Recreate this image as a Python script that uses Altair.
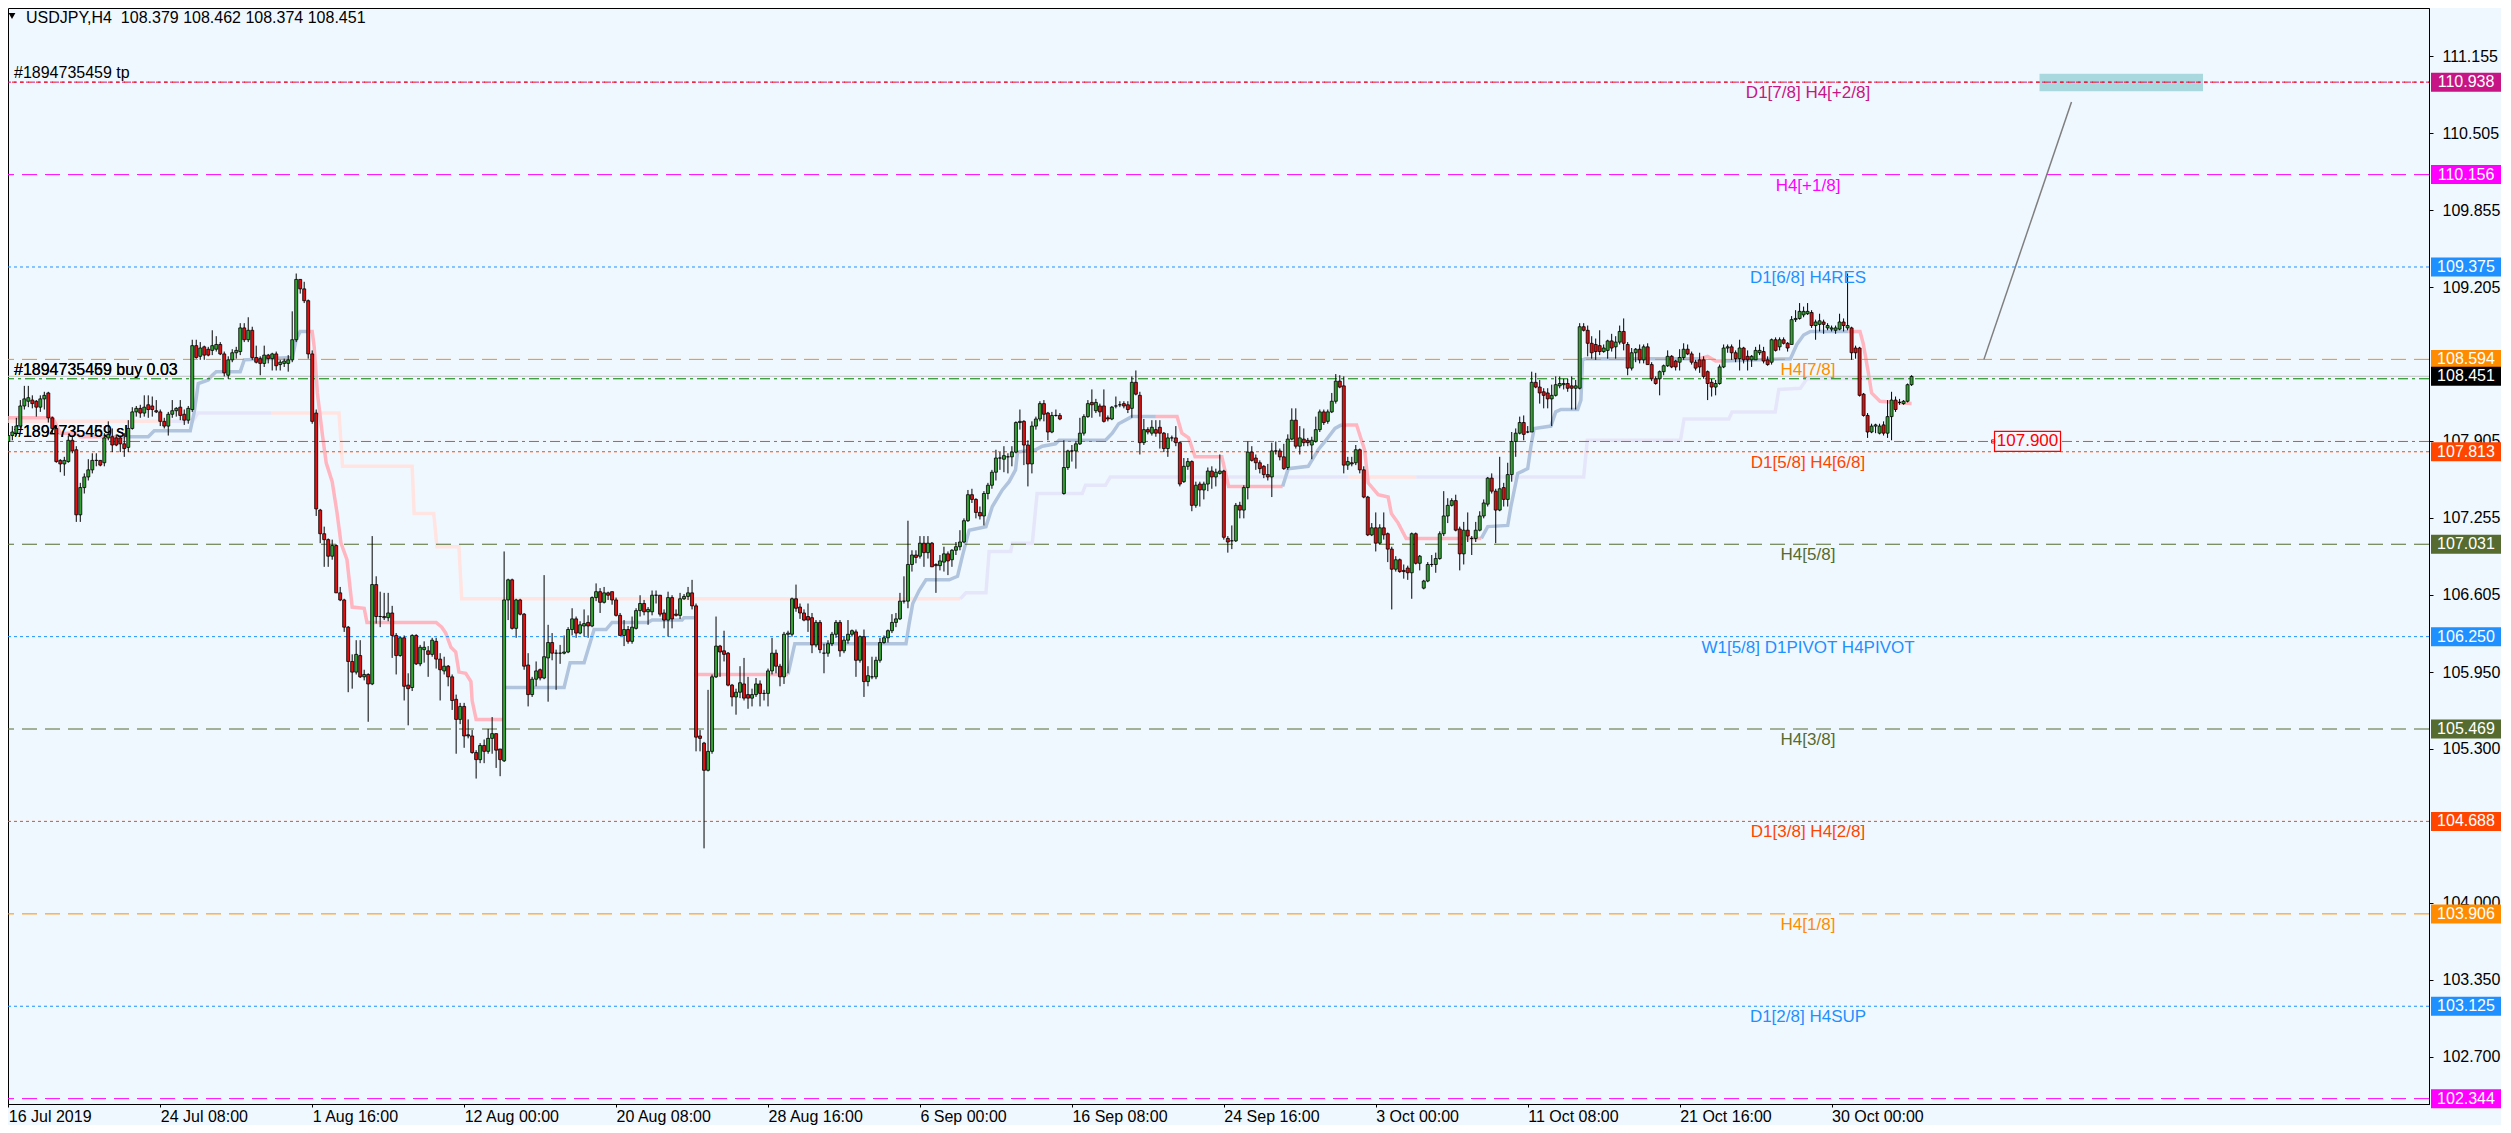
import altair as alt
import pandas as pd

# ---------------- candle data: USDJPY H4, one value per bar ----------------
OPEN = [
107.90,107.95,107.97,108.03,108.20,108.24,108.25,108.24,108.19,108.26,
108.31,108.10,108.01,107.74,107.71,107.73,107.91,107.83,107.28,107.51,
107.60,107.66,107.74,107.74,107.72,107.93,107.94,107.93,107.93,107.88,
107.85,108.01,108.15,108.18,108.14,108.21,108.20,108.16,108.15,108.07,
108.03,108.13,108.16,108.19,108.13,108.08,108.17,108.71,108.62,108.70,
108.68,108.67,108.68,108.72,108.64,108.46,108.59,108.65,108.66,108.86,
108.76,108.84,108.61,108.60,108.56,108.63,108.60,108.64,108.55,108.56,
108.56,108.59,108.76,109.27,109.19,109.09,108.64,108.14,107.32,107.12,
107.07,106.93,107.02,106.62,106.56,106.33,106.04,105.95,106.09,105.91,
105.93,105.85,106.69,106.42,106.42,106.41,106.45,106.26,106.09,106.24,
105.84,105.82,106.26,106.02,106.14,106.13,106.10,106.21,106.06,105.96,
106.00,105.91,105.72,105.55,105.66,105.42,105.41,105.27,105.21,105.33,
105.28,105.39,105.43,105.30,105.20,106.56,106.73,106.32,106.56,106.44,
106.01,105.76,105.89,105.97,105.90,106.07,106.20,106.11,106.11,106.11,
106.12,106.31,106.40,106.28,106.34,106.37,106.34,106.58,106.63,106.54,
106.62,106.63,106.56,106.43,106.26,106.31,106.21,106.32,106.47,106.53,
106.46,106.46,106.60,106.60,106.45,106.39,106.58,106.44,106.43,106.57,
106.59,106.62,106.51,105.41,105.35,105.12,105.28,105.91,106.17,106.13,
106.11,105.84,105.74,105.78,105.85,105.76,105.73,105.76,105.85,105.77,
105.77,105.96,106.11,106.00,105.91,106.27,106.27,106.57,106.50,106.45,
106.42,106.41,106.18,106.37,106.11,106.11,106.19,106.27,106.37,106.13,
106.22,106.27,106.29,106.05,106.25,105.87,105.91,105.91,106.05,106.20,
106.24,106.30,106.37,106.40,106.55,106.55,106.86,106.94,106.93,107.04,
106.96,107.04,106.86,106.85,106.88,106.95,106.90,106.98,107.01,107.05,
107.23,107.45,107.41,107.30,107.27,107.46,107.53,107.64,107.76,107.75,
107.77,107.77,107.81,108.06,108.07,107.87,107.71,108.03,108.09,108.22,
108.14,107.98,108.12,108.12,107.46,107.68,107.82,107.82,107.88,107.97,
108.11,108.23,108.16,108.20,108.20,108.10,108.09,108.20,108.21,108.22,
108.21,108.18,108.40,108.29,107.89,108.00,107.97,108.00,108.02,107.97,
107.84,107.93,107.93,107.89,107.56,107.69,107.73,107.36,107.54,107.49,
107.54,107.65,107.60,107.63,107.65,107.08,107.06,107.06,107.36,107.32,
107.51,107.81,107.76,107.72,107.69,107.62,107.60,107.82,107.82,107.77,
107.68,107.92,108.08,107.86,107.92,107.91,107.87,107.90,108.00,108.15,
108.07,108.15,108.24,108.41,108.37,107.70,107.72,107.72,107.83,107.66,
107.43,107.11,107.17,107.04,107.17,107.12,106.99,106.82,106.90,106.81,
106.83,106.79,107.12,106.87,106.66,106.72,106.86,106.86,106.91,107.12,
107.27,107.36,107.40,107.16,106.95,107.15,107.08,107.08,107.15,107.27,
107.37,107.59,107.48,107.32,107.51,107.41,107.62,107.90,107.97,108.06,
107.98,107.98,108.40,108.36,108.32,108.31,108.26,108.29,108.37,108.38,
108.39,108.37,108.35,108.35,108.87,108.84,108.73,108.72,108.71,108.66,
108.67,108.75,108.70,108.74,108.83,108.72,108.52,108.65,108.68,108.59,
108.70,108.55,108.43,108.43,108.49,108.54,108.62,108.58,108.57,108.61,
108.68,108.64,108.57,108.59,108.59,108.49,108.40,108.36,108.39,108.53,
108.69,108.70,108.65,108.60,108.69,108.62,108.59,108.59,108.65,108.66,
108.59,108.57,108.76,108.70,108.76,108.73,108.72,108.93,108.94,108.97,
108.98,108.99,108.88,108.89,108.91,108.86,108.85,108.84,108.85,108.91,
108.86,108.86,108.69,108.69,108.30,108.12,107.98,108.03,107.97,108.04,
107.97,108.11,108.25,108.23,108.22,108.24,108.38]
HIGH = [
107.98,108.03,108.10,108.25,108.37,108.37,108.29,108.25,108.29,108.32,
108.32,108.11,108.03,107.75,107.77,107.95,107.95,107.86,107.55,107.63,
107.75,107.80,107.80,107.74,107.97,108.07,108.01,107.96,107.95,107.97,
108.08,108.19,108.20,108.21,108.29,108.29,108.28,108.25,108.17,108.10,
108.15,108.25,108.19,108.25,108.17,108.20,108.76,108.76,108.74,108.71,
108.70,108.84,108.79,108.74,108.66,108.62,108.68,108.70,108.90,108.90,
108.95,108.87,108.71,108.62,108.71,108.64,108.65,108.66,108.59,108.60,
108.63,109.00,109.32,109.27,109.25,109.10,108.67,108.17,107.33,107.18,
107.08,107.07,107.03,106.67,106.57,106.34,106.10,106.22,106.22,105.97,
105.94,107.10,106.76,106.63,106.62,106.62,106.51,106.28,106.25,106.26,
105.94,106.27,106.27,106.18,106.21,106.17,106.24,106.24,106.11,106.08,
106.01,105.93,105.76,105.69,105.69,105.55,105.46,105.29,105.35,105.38,
105.47,105.57,105.43,105.30,106.97,106.74,106.74,106.57,106.57,106.45,
106.11,105.91,106.04,105.98,106.77,106.35,106.28,106.14,106.18,106.26,
106.33,106.49,106.42,106.38,106.48,106.43,106.59,106.70,106.66,106.67,
106.63,106.63,106.58,106.45,106.39,106.34,106.42,106.49,106.60,106.56,
106.50,106.64,106.64,106.60,106.48,106.63,106.60,106.48,106.62,106.61,
106.67,106.73,106.53,105.46,105.36,105.80,105.93,106.42,106.18,106.30,
106.12,105.85,105.81,106.00,106.07,105.91,105.81,105.90,105.88,105.80,
105.98,106.24,106.14,106.02,106.29,106.30,106.58,106.69,106.53,106.48,
106.53,106.45,106.39,106.39,106.19,106.22,106.29,106.39,106.39,106.25,
106.39,106.31,106.31,106.26,106.31,106.00,106.08,106.08,106.24,106.26,
106.31,106.44,106.45,106.62,106.76,107.23,106.98,106.98,107.10,107.10,
107.10,107.05,106.87,106.94,107.01,106.97,106.99,107.05,107.15,107.25,
107.49,107.50,107.42,107.35,107.48,107.55,107.66,107.83,107.81,107.86,
107.80,107.86,108.07,108.17,108.08,107.91,108.07,108.11,108.24,108.25,
108.15,108.15,108.17,108.14,107.91,107.83,107.87,107.90,108.10,108.13,
108.25,108.34,108.26,108.22,108.34,108.12,108.20,108.28,108.24,108.24,
108.24,108.45,108.50,108.32,108.09,108.02,108.08,108.08,108.08,107.98,
107.97,107.95,108.03,107.90,107.76,107.76,107.74,107.56,107.56,107.56,
107.68,107.69,107.67,107.79,107.66,107.10,107.19,107.38,107.39,107.53,
107.90,107.86,107.79,107.74,107.70,107.71,107.89,107.90,107.84,107.88,
107.96,108.18,108.18,108.03,108.01,107.93,107.94,108.11,108.17,108.17,
108.17,108.31,108.47,108.46,108.45,107.77,107.77,107.87,107.84,107.69,
107.44,107.21,107.30,107.20,107.30,107.13,107.01,106.93,106.91,106.86,
106.85,107.13,107.13,106.94,106.73,106.88,106.94,106.96,107.14,107.48,
107.42,107.42,107.45,107.18,107.22,107.30,107.10,107.22,107.31,107.41,
107.60,107.63,107.50,107.77,107.55,107.72,107.98,108.01,108.11,108.12,
108.03,108.49,108.48,108.42,108.35,108.35,108.38,108.45,108.45,108.43,
108.43,108.45,108.42,108.90,108.90,108.88,108.79,108.77,108.84,108.72,
108.76,108.81,108.79,108.88,108.94,108.74,108.69,108.69,108.72,108.72,
108.73,108.57,108.45,108.50,108.55,108.67,108.63,108.59,108.68,108.73,
108.72,108.66,108.59,108.65,108.62,108.50,108.43,108.42,108.55,108.72,
108.72,108.72,108.67,108.76,108.70,108.67,108.63,108.70,108.72,108.70,
108.62,108.77,108.78,108.78,108.78,108.74,108.96,109.01,109.07,109.04,
109.07,109.01,108.93,108.98,108.93,108.90,108.88,108.88,108.98,108.94,
109.32,108.87,108.71,108.70,108.31,108.14,108.05,108.05,108.05,108.07,
108.25,108.32,108.28,108.26,108.25,108.39,108.46]
LOW = [
107.83,107.91,107.95,108.01,108.17,108.19,108.18,108.11,108.15,108.17,
108.06,107.97,107.72,107.64,107.61,107.72,107.80,107.22,107.22,107.46,
107.57,107.63,107.69,107.69,107.69,107.91,107.81,107.86,107.81,107.77,
107.81,108.00,108.11,108.10,108.11,108.10,108.11,108.14,108.03,108.01,
107.95,108.10,108.11,108.08,108.04,108.05,108.15,108.60,108.59,108.59,
108.62,108.63,108.66,108.63,108.45,108.43,108.57,108.60,108.63,108.74,
108.74,108.59,108.56,108.46,108.53,108.56,108.50,108.50,108.50,108.53,
108.49,108.57,108.74,109.15,109.07,108.60,108.05,107.27,107.04,106.84,
106.84,106.90,106.62,106.55,106.29,105.78,105.81,105.93,105.90,105.88,
105.53,105.84,106.36,106.33,106.39,106.38,106.07,105.93,106.08,105.71,
105.50,105.79,106.01,106.00,106.03,105.91,106.08,105.98,105.71,105.93,
105.83,105.63,105.26,105.51,105.31,105.39,105.26,105.05,105.18,105.18,
105.26,105.26,105.14,105.07,105.19,106.39,106.31,106.24,106.43,105.97,
105.66,105.74,105.83,105.88,105.89,105.70,106.05,105.80,106.02,106.10,
106.11,106.26,106.24,106.27,106.25,106.24,106.33,106.55,106.45,106.53,
106.56,106.52,106.42,106.26,106.17,106.19,106.19,106.31,106.42,106.43,
106.35,106.43,106.53,106.42,106.32,106.25,106.32,106.42,106.40,106.56,
106.56,106.48,105.28,105.28,104.46,105.11,105.26,105.90,105.91,106.04,
105.83,105.66,105.59,105.73,105.71,105.64,105.66,105.74,105.66,105.71,
105.66,105.93,105.94,105.83,105.85,105.94,106.25,106.46,106.40,106.38,
106.29,106.11,106.16,106.11,105.94,106.08,106.17,106.24,106.08,106.11,
106.19,106.25,105.91,106.03,105.74,105.83,105.89,105.89,106.03,106.19,
106.20,106.28,106.33,106.39,106.53,106.49,106.80,106.87,106.91,106.84,
106.91,106.84,106.62,106.81,106.80,106.77,106.84,106.94,106.98,107.04,
107.22,107.38,107.25,107.24,107.19,107.41,107.50,107.57,107.66,107.64,
107.63,107.69,107.80,108.00,107.70,107.52,107.63,108.00,108.07,108.07,
107.91,107.97,108.11,108.08,107.45,107.66,107.73,107.67,107.87,107.95,
108.10,108.10,108.14,108.11,108.06,108.07,108.08,108.18,108.19,108.18,
108.14,108.10,108.29,107.79,107.87,107.96,107.95,107.94,107.84,107.81,
107.77,107.90,107.86,107.52,107.55,107.66,107.31,107.34,107.35,107.41,
107.48,107.50,107.52,107.62,107.07,106.96,106.99,107.05,107.25,107.25,
107.41,107.73,107.66,107.63,107.59,107.57,107.43,107.79,107.74,107.66,
107.66,107.91,107.84,107.79,107.86,107.86,107.75,107.89,107.98,108.04,
108.05,108.14,108.22,108.35,107.63,107.66,107.69,107.70,107.63,107.42,
107.10,107.10,106.97,107.03,107.07,106.88,106.48,106.80,106.79,106.74,
106.73,106.57,106.86,106.81,106.65,106.71,106.84,106.79,106.90,107.10,
107.21,107.35,107.14,106.81,106.86,107.05,106.94,107.05,107.14,107.25,
107.35,107.46,107.04,107.31,107.35,107.35,107.56,107.77,107.96,107.91,
107.97,107.98,108.35,108.22,108.18,108.18,108.03,108.28,108.35,108.34,
108.32,108.17,108.17,108.34,108.83,108.62,108.60,108.59,108.63,108.65,
108.60,108.66,108.60,108.72,108.67,108.46,108.50,108.57,108.56,108.56,
108.55,108.41,108.38,108.29,108.46,108.53,108.52,108.50,108.50,108.59,
108.63,108.55,108.50,108.48,108.43,108.25,108.28,108.29,108.38,108.52,
108.65,108.59,108.57,108.50,108.56,108.50,108.53,108.59,108.63,108.56,
108.54,108.55,108.66,108.67,108.72,108.66,108.72,108.91,108.93,108.95,
108.97,108.86,108.76,108.83,108.81,108.84,108.83,108.81,108.84,108.83,
108.84,108.59,108.60,108.28,108.11,107.93,107.97,107.97,107.96,107.95,
107.93,107.91,108.15,108.21,108.21,108.23,108.37]
CLOSE = [
107.95,107.98,108.03,108.20,108.26,108.27,108.22,108.19,108.26,108.29,
108.10,108.01,107.73,107.71,107.74,107.91,107.82,107.28,107.51,107.60,
107.66,107.74,107.74,107.70,107.93,107.96,107.87,107.87,107.88,107.84,
108.01,108.15,108.18,108.14,108.19,108.17,108.17,108.15,108.07,108.03,
108.13,108.16,108.18,108.12,108.08,108.18,108.71,108.61,108.69,108.63,
108.63,108.71,108.72,108.64,108.48,108.59,108.65,108.67,108.86,108.76,
108.84,108.61,108.57,108.56,108.63,108.60,108.64,108.54,108.57,108.58,
108.59,108.76,109.27,109.19,109.09,108.64,108.07,107.33,107.12,107.07,
106.93,107.02,106.62,106.56,106.33,106.04,105.95,106.10,105.91,105.93,
105.85,106.69,106.42,106.42,106.41,106.45,106.26,106.09,106.24,105.83,
105.81,106.26,106.02,106.16,106.16,106.10,106.22,106.06,105.97,106.00,
105.91,105.71,105.55,105.66,105.41,105.41,105.27,105.21,105.33,105.28,
105.39,105.43,105.29,105.21,106.56,106.73,106.32,106.56,106.44,106.00,
105.76,105.89,105.96,105.90,106.08,106.20,106.11,106.11,106.11,106.12,
106.31,106.40,106.28,106.35,106.36,106.34,106.58,106.63,106.54,106.62,
106.60,106.56,106.43,106.26,106.31,106.21,106.33,106.47,106.53,106.46,
106.48,106.60,106.60,106.44,106.39,106.58,106.40,106.43,106.57,106.59,
106.62,106.51,105.40,105.39,105.12,105.28,105.91,106.17,106.12,106.10,
105.84,105.74,105.78,105.86,105.73,105.73,105.76,105.85,105.77,105.77,
105.96,106.11,106.00,105.91,106.27,106.28,106.57,106.49,106.45,106.39,
106.39,106.18,106.37,106.14,106.11,106.19,106.27,106.37,106.13,106.22,
106.27,106.30,106.05,106.25,105.87,105.92,105.91,106.05,106.20,106.24,
106.30,106.37,106.40,106.55,106.55,106.86,106.94,106.92,107.04,106.96,
107.04,106.84,106.85,106.89,106.95,106.89,106.98,107.01,107.05,107.23,
107.45,107.41,107.30,107.27,107.46,107.53,107.64,107.76,107.76,107.78,
107.77,107.81,108.06,108.07,107.87,107.71,108.03,108.09,108.22,108.13,
107.98,108.12,108.12,108.09,107.68,107.82,107.82,107.88,107.97,108.11,
108.22,108.21,108.23,108.15,108.07,108.09,108.19,108.20,108.21,108.20,
108.17,108.40,108.30,107.89,108.00,107.98,108.02,107.97,107.97,107.84,
107.93,107.93,107.89,107.54,107.69,107.73,107.36,107.53,107.49,107.54,
107.65,107.60,107.64,107.65,107.09,107.05,107.06,107.36,107.32,107.51,
107.81,107.74,107.72,107.67,107.62,107.60,107.82,107.82,107.77,107.67,
107.92,108.08,107.86,107.93,107.89,107.89,107.91,108.00,108.15,108.06,
108.15,108.24,108.41,108.36,107.70,107.73,107.71,107.83,107.66,107.43,
107.11,107.17,107.04,107.17,107.11,106.99,106.82,106.90,106.80,106.80,
106.79,107.12,106.87,106.93,106.72,106.86,106.86,106.91,107.12,107.27,
107.36,107.40,107.15,106.95,107.15,107.10,107.08,107.15,107.27,107.38,
107.59,107.48,107.32,107.50,107.41,107.62,107.90,107.97,108.06,107.96,
107.98,108.40,108.36,108.31,108.29,108.26,108.29,108.38,108.39,108.39,
108.35,108.35,108.37,108.87,108.84,108.73,108.65,108.66,108.66,108.69,
108.75,108.69,108.74,108.83,108.73,108.52,108.65,108.68,108.59,108.70,
108.55,108.43,108.39,108.49,108.54,108.62,108.53,108.53,108.61,108.68,
108.64,108.57,108.52,108.53,108.45,108.39,108.36,108.39,108.53,108.69,
108.70,108.65,108.60,108.69,108.59,108.59,108.62,108.67,108.67,108.58,
108.55,108.76,108.67,108.76,108.73,108.69,108.93,108.94,109.00,109.00,
109.00,108.88,108.91,108.92,108.89,108.88,108.86,108.86,108.91,108.88,
108.88,108.65,108.65,108.29,108.12,107.98,108.03,108.04,108.03,107.97,
108.11,108.25,108.17,108.23,108.24,108.38,108.45]

# ---------------- axis labels ----------------
DATE_TICKS = [0, 38, 76, 114, 152, 190, 228, 266, 304, 342, 380, 418, 456]
DATE_LABELS = ["16 Jul 2019", "24 Jul 08:00", "1 Aug 16:00", "12 Aug 00:00",
               "20 Aug 08:00", "28 Aug 16:00", "6 Sep 00:00", "16 Sep 08:00",
               "24 Sep 16:00", "3 Oct 00:00", "11 Oct 08:00", "21 Oct 16:00",
               "30 Oct 00:00"]
PRICE_TICKS = [111.155, 110.505, 109.855, 109.205, 107.905, 107.255, 106.605,
               105.950, 105.300, 104.000, 103.350, 102.700]

# ---------------- Murrey-style levels ----------------
LEVEL_PRICES = [110.938, 110.156, 109.375, 108.594, 107.813, 107.031, 106.250,
                105.469, 104.688, 103.906, 103.125, 102.344]
LEVEL_NAMES = ["D1[7/8] H4[+2/8]", "H4[+1/8]", "D1[6/8] H4RES", "H4[7/8]",
               "D1[5/8] H4[6/8]", "H4[5/8]", "W1[5/8] D1PIVOT H4PIVOT", "H4[3/8]",
               "D1[3/8] H4[2/8]", "H4[1/8]", "D1[2/8] H4SUP", ""]
LEVEL_COLORS = ["#C71585", "#FF00FF", "#1E90FF", "#FF8C00", "#FF4500", "#556B2F",
                "#1E90FF", "#556B2F", "#FF4500", "#FF8C00", "#1E90FF", "#FF00FF"]
LEVEL_STYLES = ["dot", "dash", "dot", "dash", "dot", "dash", "dot", "dash", "dot",
                "dash", "dot", "dash"]

BID = 108.451
ORDER_OPEN = 108.43
ORDER_SL = 107.90
ORDER_TP = 110.938

# ---------------- trailing indicator lines (bar, price) ----------------
MAIN_SEGS = [
    ("pink", [(0, 108.10), (11, 108.10), (12, 108.04), (13, 107.97), (17, 107.97), (18, 107.94), (30, 107.94)]),
    ("blue", [(30, 107.94), (35, 107.94), (36.5, 107.99), (45.5, 107.99), (46.5, 108.15), (47.5, 108.39), (50, 108.42),
              (51, 108.46), (52, 108.49), (58, 108.49), (59, 108.59), (71, 108.61), (72, 108.76), (73, 108.83), (75, 108.83)]),
    ("pink", [(75, 108.83), (76, 108.83), (76.5, 108.70), (77.3, 108.31), (78.5, 107.97), (79.5, 107.72), (81, 107.56),
              (82.2, 107.30), (83.2, 107.04), (84.7, 106.90), (86, 106.50), (89, 106.49), (89.7, 106.37), (107, 106.37),
              (108.4, 106.33), (109.4, 106.28), (110.7, 106.16), (111.9, 106.12), (112.7, 105.95), (114.4, 105.94),
              (115.7, 105.87), (116, 105.71), (117, 105.55), (124, 105.55)]),
    ("blue", [(124, 105.82), (139, 105.82), (140.5, 106.03), (144, 106.03), (146.5, 106.31), (149.5, 106.31), (151, 106.37),
              (160, 106.37), (161, 106.39), (168.5, 106.39), (169, 106.41), (171.5, 106.41)]),
    ("pink", [(171.5, 105.93), (195, 105.93)]),
    ("blue", [(195, 105.93), (196.7, 106.19), (224.5, 106.19), (225.3, 106.36), (226.2, 106.53), (227.8, 106.64),
              (229.5, 106.73), (235.3, 106.73), (237.4, 106.76), (238.6, 106.93), (240.3, 107.15), (244.5, 107.18),
              (246.1, 107.35), (248.6, 107.49), (250.3, 107.56), (251.9, 107.66), (252.4, 107.81), (256.9, 107.83),
              (258.6, 107.86), (261.9, 107.88), (262.8, 107.91), (274.4, 107.91), (276.1, 107.97), (277.7, 108.05),
              (281, 108.11), (287, 108.11)]),
    ("pink", [(287, 108.11), (292.3, 108.11), (293.5, 107.97), (295.2, 107.93), (296.8, 107.77), (303.5, 107.77),
              (305.2, 107.52), (318.7, 107.52)]),
    ("blue", [(318.7, 107.52), (320.1, 107.67), (325.1, 107.69), (327.6, 107.83), (329.3, 107.90), (331.8, 108.01),
              (333.4, 108.04)]),
    ("pink", [(333.4, 108.04), (337.2, 108.04), (339.2, 107.83), (340.1, 107.55), (342.6, 107.45), (345.1, 107.43),
              (345.9, 107.29), (347.6, 107.21), (349.6, 107.08), (368.4, 107.08)]),
    ("blue", [(368.4, 107.08), (370, 107.18), (375, 107.19), (375.8, 107.35), (377.5, 107.63), (380, 107.67),
              (380.8, 107.86), (381.6, 108.01), (385.8, 108.03), (387, 108.15), (388.3, 108.17), (392.5, 108.17),
              (393.3, 108.25), (393.7, 108.59), (394.5, 108.60), (423, 108.60)]),
    ("pink", [(423, 108.60), (425, 108.62), (427, 108.58), (429, 108.58)]),
    ("blue", [(429, 108.58), (445.7, 108.60), (447.3, 108.72), (449, 108.80), (450.7, 108.83), (460.2, 108.83)]),
    ("pink", [(460.2, 108.83), (463.1, 108.83), (463.9, 108.73), (465.2, 108.48), (466, 108.31), (468.1, 108.24),
              (476, 108.22)]),
]
FAINT_SEGS = [
    ("rose", [(0, 108.07), (40.8, 108.07)]),
    ("lav", [(40.8, 108.07), (46.1, 108.07), (47.4, 108.14), (65.7, 108.14)]),
    ("rose", [(65.7, 108.14), (82.7, 108.14), (83.6, 107.69), (101, 107.69), (101.5, 107.29), (106.4, 107.29),
              (107.2, 107.01), (112.7, 107.01), (113.4, 106.57), (238.1, 106.57)]),
    ("lav", [(238.1, 106.57), (239.5, 106.62), (244.5, 106.62), (245.3, 106.97), (250.7, 106.97), (251.1, 107.04),
             (256.1, 107.04), (257.3, 107.46), (268.6, 107.46), (269.4, 107.53), (274.4, 107.53), (275.6, 107.60),
             (335.2, 107.60)]),
    ("rose", [(335.2, 107.60), (352.1, 107.60)]),
    ("lav", [(352.1, 107.60), (394, 107.60), (394.9, 107.91), (418.2, 107.91), (419.1, 108.09), (430.3, 108.09),
             (431.1, 108.15), (441.9, 108.15), (442.8, 108.34), (448.2, 108.35), (449.8, 108.43), (475, 108.43)]),
]
SEG_COLORS = {"pink": "#FFB6C1", "blue": "#B0C4DE", "rose": "#FFE4E1", "lav": "#E6E6FA"}

TREND_X = [494.1, 516.0]
TREND_P = [108.594, 110.77]
RECT_X = [508.0, 548.9]
RECT_P = [111.009, 110.86]
SL_LABEL_X = 505.0
SL_MARK_X = 496.4

# ---------------- build tables ----------------
FONT = "Liberation Sans"
BULL = "#32A032"
BEAR = "#DD1111"
XS = alt.Scale(domain=[1.1706, 604.16], nice=False, zero=False)
YS = alt.Scale(domain=[102.2986, 111.5647], nice=False, zero=False)

bars = pd.DataFrame({"i": list(range(len(CLOSE))), "o": OPEN, "h": HIGH, "l": LOW, "c": CLOSE})
bars["top"] = bars[["h", "o", "c"]].max(axis=1)
bars["bot"] = bars[["l", "o", "c"]].min(axis=1)
bars["dir"] = ["up" if c >= o else "down" for o, c in zip(OPEN, CLOSE)]

label_expr = "[" + ",".join("'" + s + "'" for s in DATE_LABELS) + "][round(datum.value / 38)]"
X_AXIS = alt.Axis(values=DATE_TICKS, labelExpr=label_expr, labelAlign="left", labelBaseline="top",
                  labelPadding=1, tickSize=3, tickColor="black", domainColor="black", labelColor="black",
                  labelFont=FONT, labelFontSize=16, grid=False, title=None, labelOverlap=False,
                  labelFlush=False, labelBound=False)
Y_AXIS = alt.Axis(orient="right", values=PRICE_TICKS, format=".3f", tickSize=4, labelPadding=9,
                  tickColor="black", domainColor="black", labelColor="black", labelFont=FONT,
                  labelFontSize=16, grid=False, title=None, labelOverlap=False, labelBaseline="middle")


def seg_table(segs):
    rows = []
    for s, (kind, pts) in enumerate(segs):
        for k, (x, p) in enumerate(pts):
            rows.append({"x": x, "p": p, "seg": s, "k": k, "col": SEG_COLORS[kind]})
    return pd.DataFrame(rows)


def xq(field):
    return alt.X(field, type="quantitative", scale=XS, axis=X_AXIS)


def yq(field):
    return alt.Y(field, type="quantitative", scale=YS, axis=Y_AXIS)


layers = []

# rectangle (tp zone)
rect_df = pd.DataFrame({"x1": [RECT_X[0]], "x2": [RECT_X[1]], "p1": [RECT_P[0]], "p2": [RECT_P[1]]})
layers.append(alt.Chart(rect_df).mark_rect(color="#A9D9DE").encode(
    x=xq("x1"), x2="x2", y=yq("p1"), y2="p2"))

# indicator lines
layers.append(alt.Chart(seg_table(FAINT_SEGS)).mark_line(strokeWidth=3.5).encode(
    x=xq("x"), y=yq("p"), detail="seg:N", order="k:Q", color=alt.Color("col:N", scale=None)))
layers.append(alt.Chart(seg_table(MAIN_SEGS)).mark_line(strokeWidth=3.5).encode(
    x=xq("x"), y=yq("p"), detail="seg:N", order="k:Q", color=alt.Color("col:N", scale=None)))

# level lines
for p, c, st in zip(LEVEL_PRICES, LEVEL_COLORS, LEVEL_STYLES):
    dash = [3, 3] if st == "dot" else [15, 8]
    layers.append(alt.Chart(pd.DataFrame({"p": [p]})).mark_rule(color=c, strokeWidth=1, strokeDash=dash)
                  .encode(y=yq("p")))
# tp line (red over the violet level)
layers.append(alt.Chart(pd.DataFrame({"p": [ORDER_TP]})).mark_rule(
    color="#FF0000", strokeWidth=1, strokeDash=[4, 4], strokeDashOffset=3).encode(y=yq("p")))
# sl and open-price lines, bid line
layers.append(alt.Chart(pd.DataFrame({"p": [ORDER_SL]})).mark_rule(
    color="#FF4500", strokeWidth=1, strokeDash=[10, 4, 3, 4]).encode(y=yq("p")))
layers.append(alt.Chart(pd.DataFrame({"p": [BID]})).mark_rule(color="#C0C0C0", strokeWidth=1).encode(y=yq("p")))
layers.append(alt.Chart(pd.DataFrame({"p": [ORDER_OPEN]})).mark_rule(
    color="#008000", strokeWidth=1, strokeDash=[10, 4, 3, 4]).encode(y=yq("p")))

# order texts
order_df = pd.DataFrame({
    "p": [ORDER_TP, ORDER_OPEN, ORDER_OPEN, ORDER_SL, ORDER_SL],
    "t": ["#1894735459 tp", "#1894735459 buy 0.03", "#1894735469 buy 0.03", "#1894735469 sl", "#1894735459 sl"],
})
layers.append(alt.Chart(order_df).mark_text(align="left", baseline="middle", dy=-9, font=FONT, fontSize=16,
                                            color="black").encode(x=alt.value(6), y=yq("p"), text="t:N"))

# trend line
trend_df = pd.DataFrame({"x": TREND_X, "p": TREND_P})
layers.append(alt.Chart(trend_df).mark_line(color="#7F7F7F", strokeWidth=1.5).encode(x=xq("x"), y=yq("p")))

# candles
layers.append(alt.Chart(bars).mark_rule(color="black", strokeWidth=1).encode(
    x=xq("i"), y=yq("bot"), y2="top:Q"))
layers.append(alt.Chart(bars).mark_bar(size=3, stroke="black", strokeWidth=0.8).encode(
    x=xq("i"), y=yq("o"), y2="c:Q",
    color=alt.Color("dir:N", scale=alt.Scale(domain=["up", "down"], range=[BULL, BEAR]), legend=None)))

# level labels
lvl_df = pd.DataFrame({"p": LEVEL_PRICES, "t": LEVEL_NAMES, "col": LEVEL_COLORS})
lvl_df = lvl_df[lvl_df["t"] != ""]
layers.append(alt.Chart(lvl_df).mark_text(align="center", baseline="middle", dy=11, font=FONT, fontSize=17)
              .encode(x=alt.value(1800), y=yq("p"), text="t:N", color=alt.Color("col:N", scale=None)))

# price boxes on the right axis
box_df = pd.DataFrame({"p": LEVEL_PRICES + [BID], "col": LEVEL_COLORS + ["#000000"]})
box_df["t"] = [f"{v:.3f}" for v in box_df["p"]]
layers.append(alt.Chart(box_df).mark_tick(orient="horizontal", size=70, thickness=19, opacity=1).encode(
    x=alt.value(2458), y=yq("p"), color=alt.Color("col:N", scale=None)))
layers.append(alt.Chart(box_df).mark_text(align="center", baseline="middle", font=FONT, fontSize=16,
                                          color="white").encode(x=alt.value(2458), y=yq("p"), text="t:N"))

# 107.900 price label
sl_df = pd.DataFrame({"x": [SL_LABEL_X], "p": [ORDER_SL], "t": [f"{ORDER_SL:.3f}"], "m": [SL_MARK_X]})
layers.append(alt.Chart(sl_df).mark_tick(orient="horizontal", size=66, thickness=20, fill="#F0F8FF",
                                         stroke="#FF0000", strokeWidth=1.2, opacity=1).encode(x=xq("x"), y=yq("p")))
layers.append(alt.Chart(sl_df).mark_text(align="center", baseline="middle", font=FONT, fontSize=17,
                                         color="#FF0000").encode(x=xq("x"), y=yq("p"), text="t:N"))
layers.append(alt.Chart(sl_df).mark_point(shape="square", size=10, filled=False, color="#FF0000",
                                          strokeWidth=1, opacity=1).encode(x=xq("m"), y=yq("p")))

# title
title_df = pd.DataFrame({"t": ["USDJPY,H4\u00a0\u00a0108.379 108.462 108.374 108.451"]})
layers.append(alt.Chart(title_df).mark_point(shape="triangle-down", filled=True, color="black", size=45, opacity=1)
              .encode(x=alt.value(4), y=alt.value(8)))
layers.append(alt.Chart(title_df).mark_text(align="left", baseline="middle", font=FONT, fontSize=16, color="black")
              .encode(x=alt.value(18), y=alt.value(10), text="t:N"))

chart = alt.layer(*layers).properties(
    width=2421, height=1096, background="#F0F8FF",
    padding={"left": 0, "top": 0, "right": 72, "bottom": 21},
    autosize=alt.AutoSizeParams(type="none"),
).configure_view(stroke="black", strokeWidth=1)

chart.save("out.html", embed_options={"renderer": "svg", "actions": False})
